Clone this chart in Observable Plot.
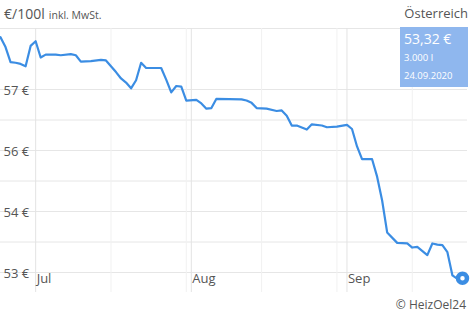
<!DOCTYPE html>
<html>
<head>
<meta charset="utf-8">
<script src="https://cdn.jsdelivr.net/npm/d3@7"></script>
<script src="https://cdn.jsdelivr.net/npm/@observablehq/plot@0.6"></script>
<style>
  html, body { margin: 0; padding: 0; background: #fff; }
  #wrap { position: relative; width: 472px; height: 320px; font-family: "Open Sans", sans-serif; color: #555; overflow: hidden; }
  #wrap svg { position: absolute; left: 0; top: 0; }
  .abs { position: absolute; white-space: nowrap; }
</style>
</head>
<body>
<div id="wrap"></div>
<script>
// ---- data ----
const dates = [
  "2020-06-24","2020-06-25","2020-06-26","2020-06-27","2020-06-28","2020-06-29","2020-06-30",
  "2020-07-01","2020-07-02","2020-07-03","2020-07-05","2020-07-06","2020-07-08","2020-07-09",
  "2020-07-10","2020-07-12","2020-07-14","2020-07-15","2020-07-17","2020-07-18","2020-07-19",
  "2020-07-20","2020-07-21","2020-07-22","2020-07-23","2020-07-26","2020-07-27","2020-07-28",
  "2020-07-29","2020-07-30","2020-07-31","2020-08-02","2020-08-03","2020-08-04","2020-08-05",
  "2020-08-06","2020-08-11","2020-08-12","2020-08-13","2020-08-14","2020-08-16","2020-08-18",
  "2020-08-19","2020-08-20","2020-08-21","2020-08-22","2020-08-24","2020-08-25","2020-08-27",
  "2020-08-28","2020-08-30","2020-09-01","2020-09-02","2020-09-03","2020-09-04","2020-09-06",
  "2020-09-07","2020-09-08","2020-09-09","2020-09-11","2020-09-13","2020-09-14","2020-09-15",
  "2020-09-17","2020-09-18","2020-09-19","2020-09-20","2020-09-21","2020-09-22","2020-09-23",
  "2020-09-24"
];
const prices = [
  57.47,57.30,57.04,57.03,57.01,56.97,57.32,
  57.40,57.12,57.17,57.17,57.16,57.18,57.16,
  57.05,57.06,57.08,57.07,56.87,56.76,56.69,
  56.59,56.73,57.03,56.94,56.94,56.74,56.52,
  56.63,56.62,56.38,56.39,56.33,56.24,56.25,
  56.41,56.40,56.38,56.34,56.25,56.24,56.20,
  56.21,56.12,55.95,55.95,55.88,55.97,55.95,
  55.92,55.93,55.96,55.89,55.59,55.37,55.37,
  55.07,54.66,54.11,53.93,53.92,53.85,53.86,
  53.72,53.92,53.90,53.89,53.77,53.37,53.31,
  53.32
];
const yTickValues = [53.42, 54.47, 55.52, 56.57];
const yTickLabels = ["53 €", "54 €", "56 €", "57 €"];
const yMinorGrid = [53.945, 54.995, 56.045, 57.62];
const monthTicks = ["2020-07-01", "2020-08-01", "2020-09-01"];
const monthLabels = ["Jul", "Aug", "Sep"];
const minorTicks = ["2020-07-16", "2020-07-31", "2020-08-15", "2020-08-30", "2020-09-14"];
const xDomain = ["2020-06-24", "2020-09-25"];
const yDomain = [53.076, 57.62];
const titleMain = "€/100l";
const titleSub = "inkl. MwSt.";
const regionLabel = "Österreich";
const boxPrice = "53,32 €";
const boxAmount = "3.000 l";
const boxDate = "24.09.2020";
const credit = "© HeizOel24";

// ---- build ----
const parse = s => new Date(s + "T00:00:00Z");
const data = dates.map((d, i) => ({date: parse(d), price: prices[i]}));
const last = data[data.length - 1];
const blue = "#3b8de3";

const chart = Plot.plot({
  width: 472,
  height: 320,
  marginLeft: 0,
  marginRight: 5,
  marginTop: 28,
  marginBottom: 28,
  style: {fontFamily: "'Open Sans', sans-serif", fontSize: "13px", color: "#555", background: "transparent"},
  x: {type: "utc", domain: xDomain.map(parse)},
  y: {domain: yDomain},
  marks: [
    Plot.ruleY([...yTickValues, ...yMinorGrid], {stroke: "#e6e6e6", strokeOpacity: 1}),
    Plot.ruleX(minorTicks.map(parse), {stroke: "#f1f1f1", strokeOpacity: 1}),
    Plot.ruleX(monthTicks.map(parse), {stroke: "#e3e3e3", strokeOpacity: 1}),
    Plot.axisY(yTickValues, {
      anchor: "left", tickSize: 0, tickPadding: 0, textAnchor: "start", dx: 3, dy: 1,
      tickFormat: (d, i) => yTickLabels[i], label: null, fill: "#555", fontSize: 13
    }),
    Plot.axisX(monthTicks.map(parse), {
      anchor: "bottom", tickSize: 0, tickPadding: 0, textAnchor: "start", dx: 1, dy: -19,
      tickFormat: (d, i) => monthLabels[i], label: null, fill: "#555", fontSize: 13
    }),
    Plot.line(data, {x: "date", y: "price", stroke: blue, strokeWidth: 2.2, curve: "linear"}),
    Plot.dot([last], {x: "date", y: "price", r: 4.5, fill: "#fff", stroke: blue, strokeWidth: 4.5})
  ]
});

const wrap = document.getElementById("wrap");
wrap.appendChild(chart);

function addText(html, css) {
  const el = document.createElement("div");
  el.className = "abs";
  el.innerHTML = html;
  Object.assign(el.style, css);
  wrap.appendChild(el);
  return el;
}
addText(`<span style="font-size:14px">${titleMain}</span> <span style="font-size:10.5px">${titleSub}</span>`,
  {left: "4px", top: "3px", lineHeight: "20px"});
addText(regionLabel, {right: "4px", top: "4px", fontSize: "13px", lineHeight: "18px"});
addText(
  `<div style="font-size:14px;line-height:18px">${boxPrice}</div>` +
  `<div style="font-size:9.5px;line-height:16px;margin-top:2px">${boxAmount}</div>` +
  `<div style="font-size:9.5px;line-height:16px;margin-top:2px">${boxDate}</div>`,
  {left: "400px", top: "27px", width: "64px", height: "57px", padding: "3px 0 0 4px",
   background: "#8fb7ee", color: "#fff"});
addText(credit, {right: "6px", top: "296px", fontSize: "12px", lineHeight: "18px"});
</script>
</body>
</html>
